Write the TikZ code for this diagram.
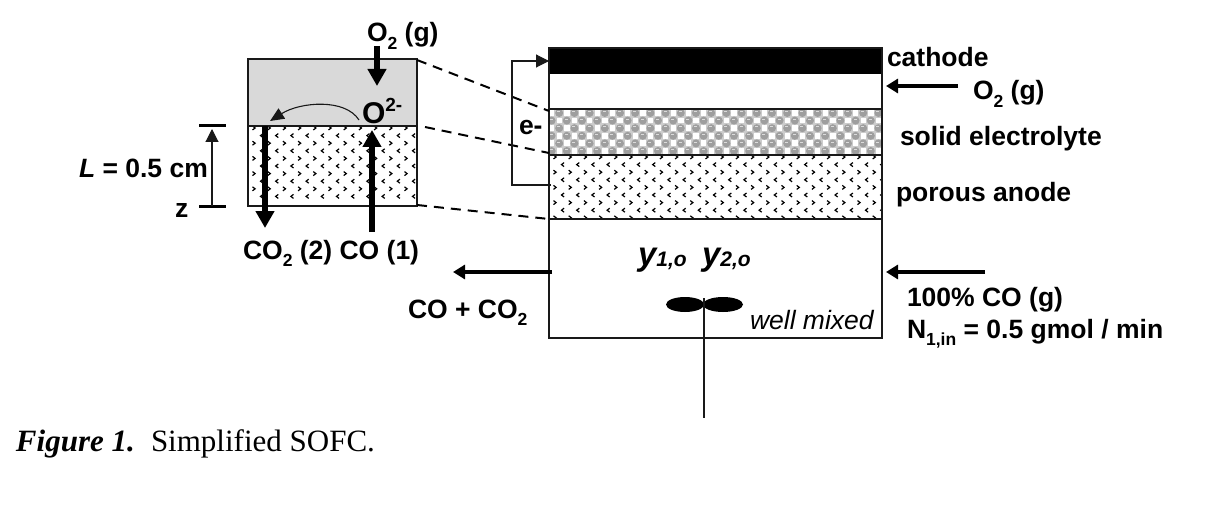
\documentclass[tikz,border=0pt]{standalone}
\usepackage{fontspec}
\setmainfont{Liberation Sans}
\newfontfamily\capfont{Liberation Serif}
\usetikzlibrary{arrows.meta}
\newcommand{\lowsub}[1]{\raisebox{-0.3em}{\fontsize{17.5}{17.5}\selectfont #1}}
\newcommand{\highsup}[1]{\raisebox{0.42em}{\fontsize{19}{19}\selectfont #1}}
\tikzset{
  lbl/.style={anchor=base west,inner sep=0pt,outer sep=0pt,font=\fontsize{26.5}{30}\selectfont\bfseries},
  frame/.style={draw=black!90,line width=2pt},
  wire/.style={draw=black!90,line width=1.1pt},
  dashline/.style={draw=black,line width=2pt,dash pattern=on 10pt off 7pt},
  bigarrow/.style={draw=black,line width=5.5pt,-{Triangle[width=18pt,length=17pt]}},
  midarrow/.style={draw=black,line width=3.2pt,-{Triangle[width=14pt,length=12pt]}},
  thinarrow/.style={wire,-{Triangle[width=13pt,length=13pt]}},
  chev/.style={draw=black,line width=1.2pt},
}
\newcommand{\chevrons}[4]{% x0 y0 x1 y1
  \begin{scope}
    \clip (#1,#2) rectangle (#3,#4);
    \foreach \r in {-1,...,9}{
      \foreach \c in {-1,...,23}{
        \pgfmathsetmacro{\yy}{#2+2+7.6*\r}
        \pgfmathsetmacro{\xx}{#1+6+15.2*\c+(mod(\r+2,2)==1 ? 7.6 : 0)}
        \ifodd\numexpr\r+2\relax
          \draw[chev] (\xx+1.5,\yy-2) -- (\xx-1.1,\yy) -- (\xx+1.5,\yy+2);
        \else
          \draw[chev] (\xx-1.5,\yy-2) -- (\xx+1.1,\yy) -- (\xx-1.5,\yy+2);
        \fi
      }
    }
  \end{scope}
}
\begin{document}
\begin{tikzpicture}[x=1pt,y=-1pt]
\useasboundingbox (0,0) rectangle (1232,516);
% left detail
\fill[black!15] (248,59) rectangle (417,126);
\chevrons{248}{126}{417}{206}
\draw[frame] (248,59) rectangle (417,206);
\draw[frame] (248,126) -- (417,126);
% right cell
\fill[black!20] (549,109) rectangle (882,155);
\begin{scope}
\clip (549,109) rectangle (882,155);
\foreach \r in {0,...,6}{
  \foreach \c in {0,...,22}{
    \pgfmathsetmacro{\yy}{113+7.6*\r}
    \pgfmathsetmacro{\xx}{544+15.2*\c+(mod(\r,2)==1 ? 7.6 : 0)}
    \fill[black!38] (\xx,\yy) circle (4pt);
    \fill[black!14] (\xx-2,\yy-1.8) rectangle (\xx+1,\yy-0.8);
    \fill[white] (\xx+4.9,\yy-2.9) rectangle (\xx+10.3,\yy+2.9);
  }
}
\end{scope}
\chevrons{549}{155}{882}{219}
\fill[black] (549,48) rectangle (882,74);
\draw[frame] (549,48) rectangle (882,338);
\draw[frame] (549,109) -- (882,109);
\draw[frame] (549,155) -- (882,155);
\draw[frame] (549,219) -- (882,219);
% coordinates
\coordinate (detTR) at (417,60);
\coordinate (elecTL) at (549,111);
\coordinate (detM) at (425,127);
\coordinate (elecBL) at (549,153);
\coordinate (detBR) at (417,205);
\coordinate (anodeBL) at (549,219);
\draw[dashline] (detTR) -- (elecTL);
\draw[dashline] (detM) -- (elecBL);
\draw[dashline] (detBR) -- (anodeBL);
% electron wire
\coordinate (anodeL) at (551,185);
\coordinate (wireB) at (512,185);
\coordinate (wireT) at (512,61);
\coordinate (cathL) at (549,61);
\draw[thinarrow] (anodeL) -- (wireB) -- (wireT) -- (cathL);
% texts
\node[lbl] (o2top) at (367,42) {O\lowsub{2} (g)};
\node[lbl] (cath) at (887,67) {cathode};
\node[lbl] (o2r) at (973,100) {O\lowsub{2} (g)};
\node[lbl] (sol) at (900,146) {solid electrolyte};
\node[lbl] (por) at (896,201) {porous anode};
\node[lbl] (coin) at (907,306) {100\% CO (g)};
\node[lbl] (nin) at (907,338) {N\lowsub{1,in} = 0.5 gmol / min};
\node[lbl] (mix) at (408,318) {CO + CO\lowsub{2}};
\node[lbl] (len) at (79,178) {\textit{L} = 0.5 cm};
\node[lbl] (zed) at (175,217) {z};
\node[lbl] (prod) at (243,259) {CO\lowsub{2} (2) CO (1)};
\node[lbl] (elec) at (519,135) {e-};
\node[lbl,font=\fontsize{30}{30}\selectfont\bfseries] (oion) at (362,124) {O\highsup{2-}};
\node[lbl,font=\fontsize{33}{34}\selectfont\bfseries\itshape] (y1) at (638,265) {y\raisebox{-0.05em}{\fontsize{21}{21}\selectfont 1,o}};
\node[lbl,font=\fontsize{33}{34}\selectfont\bfseries\itshape] (y2) at (702,265) {y\raisebox{-0.05em}{\fontsize{21}{21}\selectfont 2,o}};
\node[lbl,font=\fontsize{26.5}{30}\selectfont\itshape] (wm) at (750,329) {well mixed};
\node[lbl,font=\fontsize{31}{32}\selectfont\capfont\bfseries\itshape] (figa) at (16,451) {Figure 1.};
\node[lbl,font=\fontsize{31}{32}\selectfont\capfont] (figb) at (151,451) {Simplified SOFC.};
% arrows
\coordinate (a1) at (377,46); \coordinate (a2) at (377,86);
\draw[bigarrow] (a1) -- (a2);
\coordinate (b1) at (372,232); \coordinate (b2) at (372,130);
\draw[bigarrow] (b1) -- (b2);
\coordinate (c1) at (265,126); \coordinate (c2) at (265,228);
\draw[bigarrow] (c1) -- (c2);
\coordinate (d1) at (359,120); \coordinate (d2) at (270,121);
\draw[wire,-{Triangle[width=12pt,length=14pt]}] (d1) .. controls (345,98) and (300,102) .. (d2);
% ruler
\coordinate (rt1) at (199,126); \coordinate (rt2) at (226,126);
\coordinate (rb1) at (199,206); \coordinate (rb2) at (226,206);
\draw[draw=black,line width=3pt] (rt1) -- (rt2);
\draw[draw=black,line width=3pt] (rb1) -- (rb2);
\coordinate (rs) at (212,206); \coordinate (re) at (212,129);
\draw[thinarrow] (rs) -- (re);
% side arrows
\coordinate (e1) at (958,86); \coordinate (e2) at (886,86);
\draw[midarrow] (e1) -- (e2);
\coordinate (f1) at (985,272); \coordinate (f2) at (886,272);
\draw[midarrow] (f1) -- (f2);
\coordinate (g1) at (552,272); \coordinate (g2) at (453,272);
\draw[midarrow] (g1) -- (g2);
% impeller
\fill[black] (685,304.5) ellipse (19pt and 7.5pt);
\fill[black] (723,304.5) ellipse (20pt and 7.5pt);
\coordinate (s1) at (704,298); \coordinate (s2) at (704,418);
\draw[wire] (s1) -- (s2);
\end{tikzpicture}
\end{document}
